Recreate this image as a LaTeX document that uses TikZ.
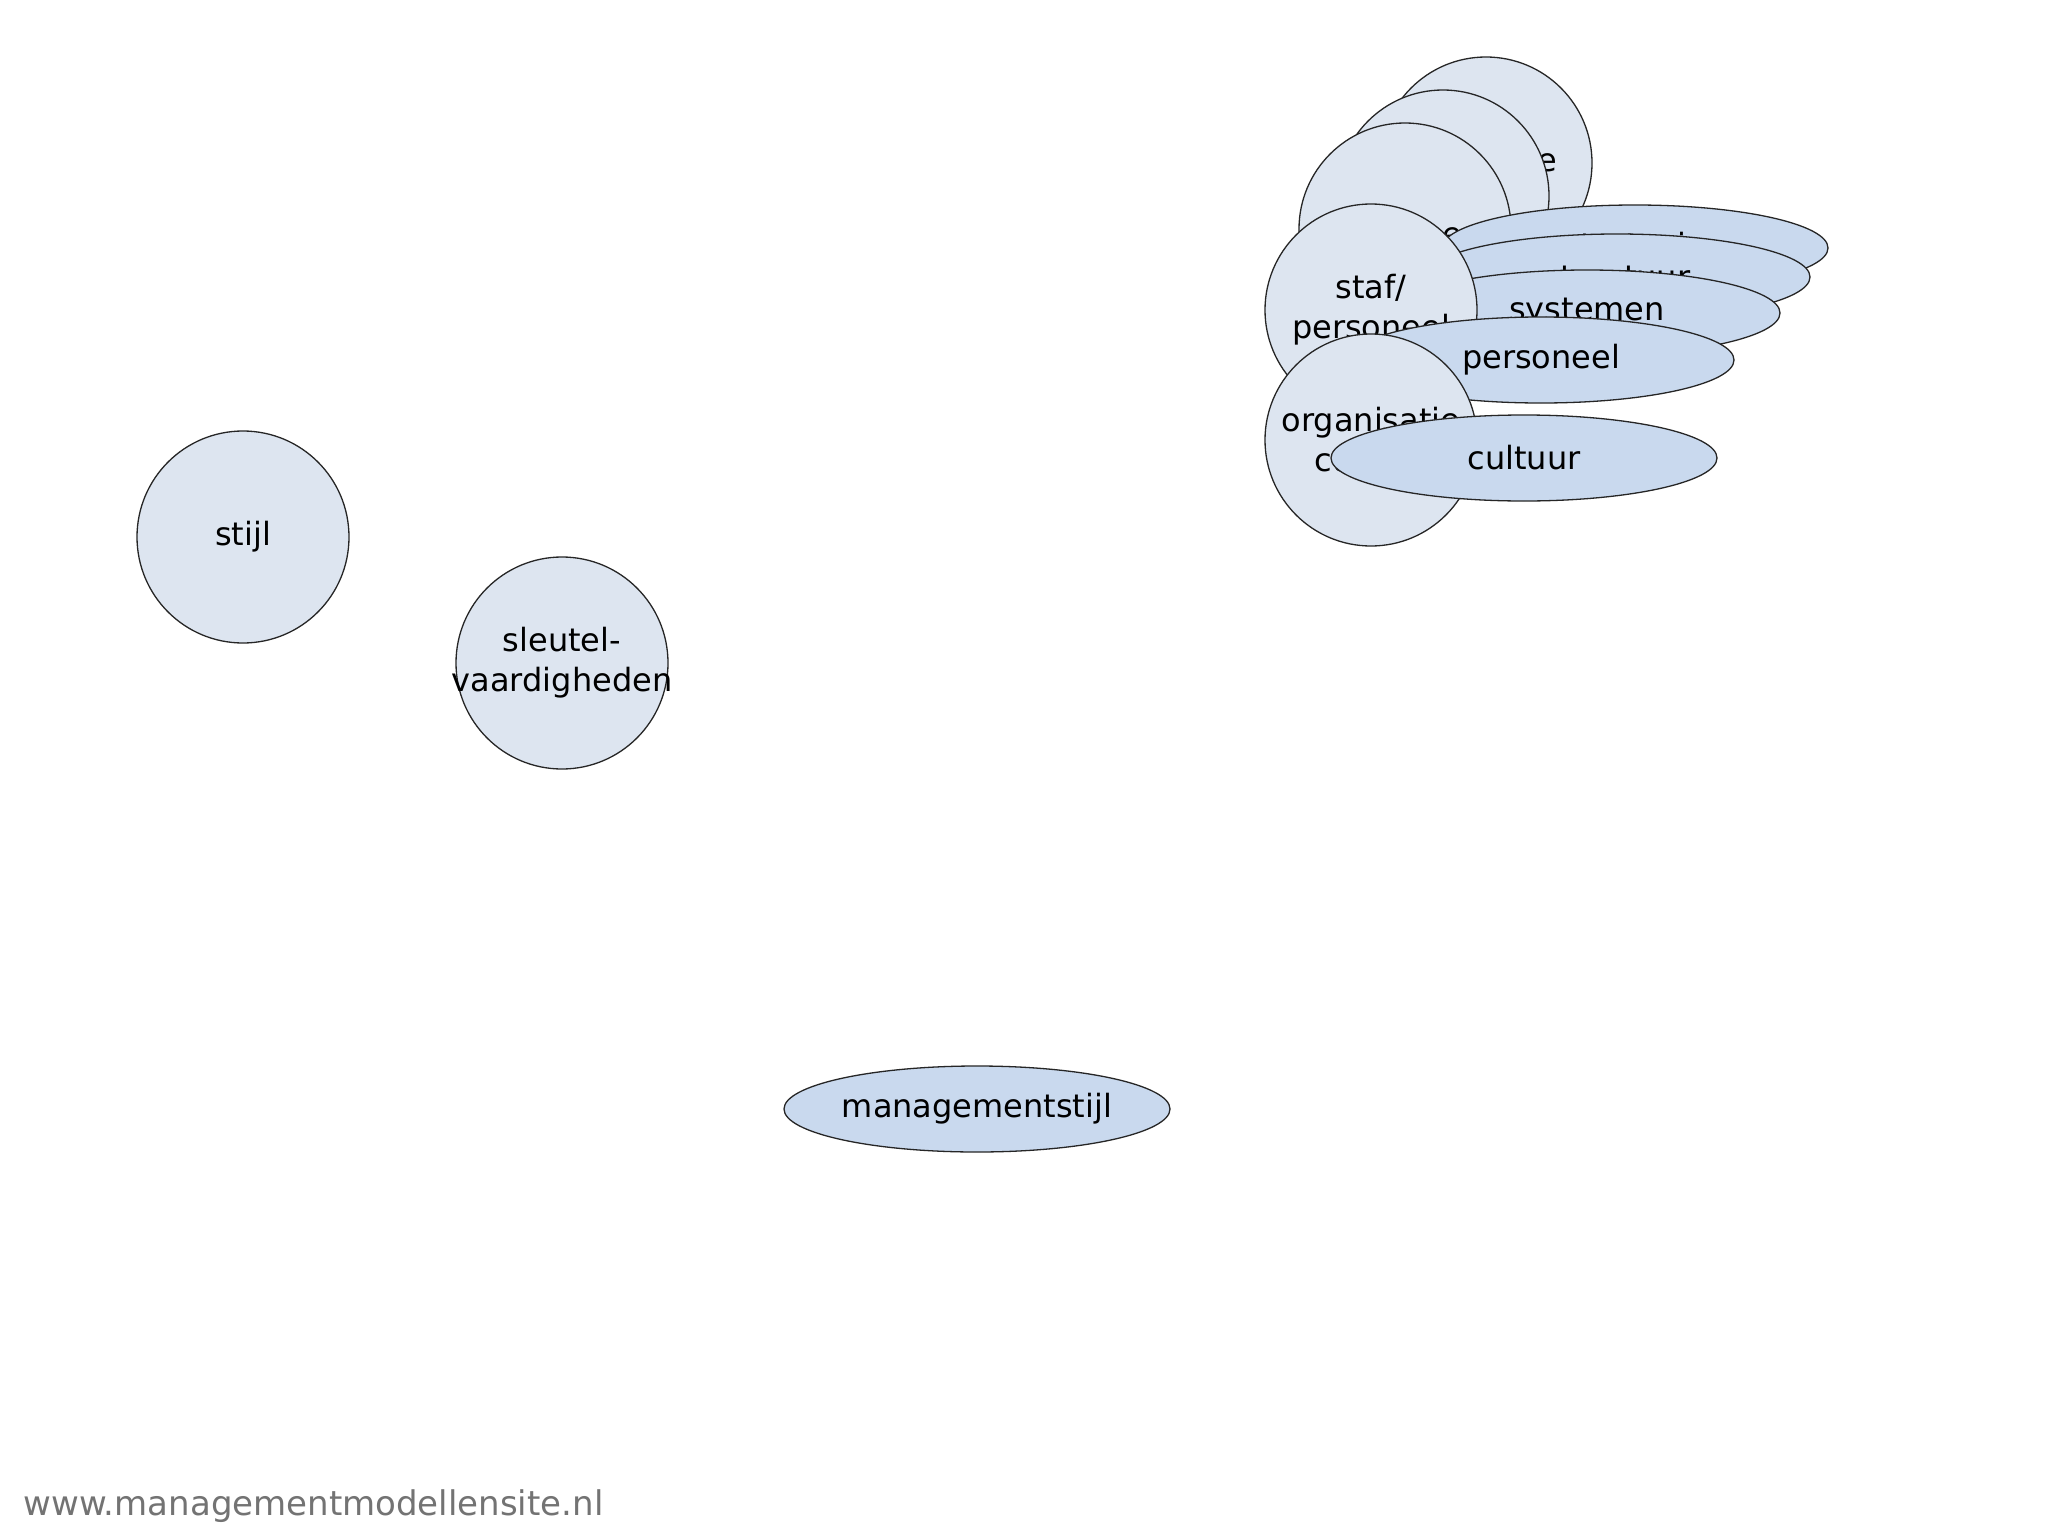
\documentclass[tikz,border=0pt]{standalone}
\usepackage{fontspec}
\setmainfont{DejaVu Sans}
\usetikzlibrary{shapes.geometric}
\definecolor{cfill}{HTML}{DDE5F0}
\definecolor{efill}{HTML}{C9D9EE}
\begin{document}
\begin{tikzpicture}[x=1pt,y=-1pt,
  circ/.style={circle,draw=black!85,line width=1.3pt,fill=cfill,minimum size=212pt,inner sep=0pt,align=center,font=\fontsize{32}{40}\selectfont},
  ell/.style={ellipse,draw=black!85,line width=1.3pt,fill=efill,minimum width=386pt,minimum height=86pt,inner sep=0pt,font=\fontsize{32}{40}\selectfont}]
\useasboundingbox (0,0) rectangle (2048,1536);
\fill[white] (0,0) rectangle (2048,1536);
\node[circ] (stijl) at (243,537) {stijl};
\node[circ] (sleutel) at (562,663) {\makebox[0pt]{sleutel-}\\\makebox[0pt]{vaardigheden}};
\node[ell] (mgmt) at (977,1109) {managementstijl};
\node[circ] (c1) at (1486,163) {strategie};
\node[circ] (c2) at (1443,196) {struc-\\tuur};
\node[circ] (c3) at (1405,229) {\\systemen};
\node[ell] (e1) at (1635,248) {strategie};
\node[ell] (e2) at (1617,277) {structuur};
\node[ell] (e3) at (1587,313) {systemen};
\node[circ] (staf) at (1371,310) {staf/\\personeel};
\node[ell] (pers) at (1541,360) {personeel};
\node[circ] (org) at (1371,440) {\makebox[0pt]{organisatie}\\cultuur};
\node[ell] (cult) at (1524,458) {cultuur};
\node[text=black!55,font=\fontsize{34}{40}\selectfont,anchor=west] (wm) at (20,1506) {www.managementmodellensite.nl};
\end{tikzpicture}
\end{document}
